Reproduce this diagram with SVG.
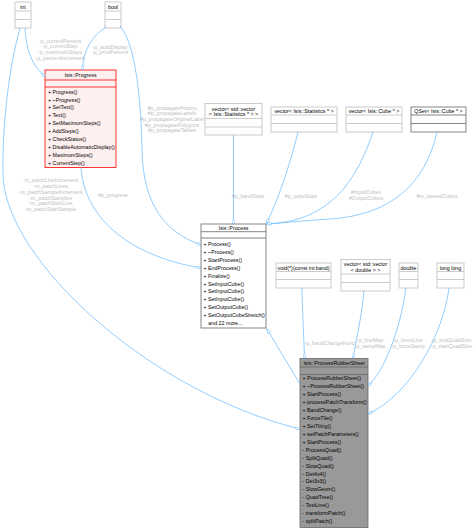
<svg xmlns="http://www.w3.org/2000/svg" width="474" height="529" viewBox="0 0 474 529">
<style>
.bx{stroke-width:0.8}
.u{fill:#fff;stroke:#bfbfbf}
.d{fill:#fff;stroke:#666}
.r{fill:#fff0f0;stroke:#ff0000}
.m{fill:#999;stroke:#666}
.sep{stroke-width:0.8}
.su{stroke:#bfbfbf}.sd{stroke:#666}.sr{stroke:#ff0000}
text{font-family:"Liberation Sans",Arial,Helvetica,sans-serif;font-size:5.3px;fill:#000}
.c{text-anchor:middle}
.lb{fill:#bebebe;text-anchor:middle}
.e{fill:none;stroke:#63b8ff;stroke-width:0.7}
.dm{marker-end:url(#dia)}
.tr{marker-end:url(#tri)}
</style>
<defs>
<marker id="dia" viewBox="0 0 10 6" refX="10" refY="3" markerWidth="5.5" markerHeight="3.3" markerUnits="userSpaceOnUse" orient="auto">
<path d="M0.5,3 L5,0.5 L9.5,3 L5,5.5 Z" fill="#fff" stroke="#63b8ff" stroke-width="1"/>
</marker>
<marker id="tri" viewBox="0 0 10 7" refX="10" refY="3.5" markerWidth="5.5" markerHeight="3.9" markerUnits="userSpaceOnUse" orient="auto">
<path d="M0.5,0.5 L9.5,3.5 L0.5,6.5 Z" fill="#fff" stroke="#63b8ff" stroke-width="1"/>
</marker>
</defs>

<g id="n_int">
<rect class="bx u" x="15" y="2" width="16" height="26"/>
<path class="sep su" d="M15,11H31M15,19.5H31"/>
<text class="c" x="23" y="9">int</text>
</g>
<g id="n_bool">
<rect class="bx u" x="105" y="2" width="16" height="26"/>
<path class="sep su" d="M105,11H121M105,19.5H121"/>
<text class="c" x="113" y="9">bool</text>
</g>
<g id="n_progress">
<rect class="bx r" x="45" y="70" width="71" height="97.5"/>
<path class="sep sr" d="M45,80H116M45,87H116"/>
<text class="c" x="80.5" y="77.3">Isis::Progress</text>
<text x="48" y="93.6">+ Progress()</text>
<text x="48" y="101.5">+ ~Progress()</text>
<text x="48" y="109.4">+ SetText()</text>
<text x="48" y="117.3">+ Text()</text>
<text x="48" y="125.2">+ SetMaximumSteps()</text>
<text x="48" y="133.1">+ AddSteps()</text>
<text x="48" y="141">+ CheckStatus()</text>
<text x="48" y="148.9">+ DisableAutomaticDisplay()</text>
<text x="48" y="156.8">+ MaximumSteps()</text>
<text x="48" y="164.7">+ CurrentStep()</text>
</g>
<g id="n_vvstats">
<rect class="bx u" x="205" y="103.5" width="57" height="31.5"/>
<path class="sep su" d="M205,118.5H262M205,127H262"/>
<text class="c" x="233.5" y="110.8">vector&lt; std::vector</text>
<text class="c" x="233.5" y="116.3">&lt; Isis::Statistics * &gt; &gt;</text>
</g>
<g id="n_vstats">
<rect class="bx u" x="271" y="107" width="66" height="25"/>
<path class="sep su" d="M271,115H337M271,123.5H337"/>
<text class="c" x="304" y="113">vector&lt; Isis::Statistics * &gt;</text>
</g>
<g id="n_vcube">
<rect class="bx u" x="346" y="107" width="56" height="25"/>
<path class="sep su" d="M346,115H402M346,123.5H402"/>
<text class="c" x="374" y="113">vector&lt; Isis::Cube * &gt;</text>
</g>
<g id="n_qset">
<rect class="bx d" x="411" y="107" width="55" height="25"/>
<path class="sep sd" d="M411,115H466M411,123.5H466"/>
<text class="c" x="438.5" y="113">QSet&lt; Isis::Cube * &gt;</text>
</g>
<g id="n_process">
<rect class="bx d" x="201" y="224" width="65" height="104"/>
<path class="sep sd" d="M201,231.7H266M201,238H266"/>
<text class="c" x="233.5" y="230">Isis::Process</text>
<text x="203.5" y="246">+ Process()</text>
<text x="203.5" y="253.9">+ ~Process()</text>
<text x="203.5" y="261.8">+ StartProcess()</text>
<text x="203.5" y="269.7">+ EndProcess()</text>
<text x="203.5" y="277.6">+ Finalize()</text>
<text x="203.5" y="285.5">+ SetInputCube()</text>
<text x="203.5" y="293.4">+ SetInputCube()</text>
<text x="203.5" y="301.3">+ SetInputCube()</text>
<text x="203.5" y="309.2">+ SetOutputCube()</text>
<text x="203.5" y="317.1">+ SetOutputCubeStretch()</text>
<text x="208.3" y="325">and 22 more...</text>
</g>
<g id="n_void">
<rect class="bx u" x="276" y="263" width="55" height="25"/>
<path class="sep su" d="M276,271.5H331M276,279.5H331"/>
<text class="c" x="303.5" y="269.5">void(*)(const int band)</text>
</g>
<g id="n_vvdouble">
<rect class="bx u" x="341" y="259.5" width="49" height="31.5"/>
<path class="sep su" d="M341,274H390M341,282.5H390"/>
<text class="c" x="365.5" y="266.3">vector&lt; std::vector</text>
<text class="c" x="365.5" y="271.8">&lt; double &gt; &gt;</text>
</g>
<g id="n_double">
<rect class="bx u" x="399" y="263" width="19" height="25"/>
<path class="sep su" d="M399,271.5H418M399,279.5H418"/>
<text class="c" x="408.5" y="269.5">double</text>
</g>
<g id="n_longlong">
<rect class="bx u" x="437" y="263" width="27" height="25"/>
<path class="sep su" d="M437,271.5H464M437,279.5H464"/>
<text class="c" x="450.5" y="269.5">long long</text>
</g>
<g id="n_prs">
<rect class="bx m" x="300" y="358.5" width="68" height="169"/>
<path class="sep sd" d="M300,367H368M300,374.5H368"/>
<text class="c" x="334" y="364.8">Isis::ProcessRubberSheet</text>
<text x="302.5" y="380.2">+ ProcessRubberSheet()</text>
<text x="302.5" y="388.1">+ ~ProcessRubberSheet()</text>
<text x="302.5" y="396.1">+ StartProcess()</text>
<text x="302.5" y="404">+ processPatchTransform()</text>
<text x="302.5" y="412">+ BandChange()</text>
<text x="302.5" y="419.9">+ ForceTile()</text>
<text x="302.5" y="427.8">+ SetTiling()</text>
<text x="302.5" y="435.8">+ setPatchParameters()</text>
<text x="302.5" y="443.7">+ StartProcess()</text>
<text x="302.5" y="451.7">- ProcessQuad()</text>
<text x="302.5" y="459.6">- SplitQuad()</text>
<text x="302.5" y="467.5">- SlowQuad()</text>
<text x="302.5" y="475.5">- Det4x4()</text>
<text x="302.5" y="483.4">- Det3x3()</text>
<text x="302.5" y="491.4">- SlowGeom()</text>
<text x="302.5" y="499.3">- QuadTree()</text>
<text x="302.5" y="507.2">- TestLine()</text>
<text x="302.5" y="515.2">- transformPatch()</text>
<text x="302.5" y="523.1">- splitPatch()</text>
</g>

<g id="connectors">
<path class="e dm" d="M25,28 C26,50 32,66 45.5,76.5"/>
<text class="lb" x="60" y="42.6">-p_currentPercent</text>
<text class="lb" x="60" y="48.4">-p_currentStep</text>
<text class="lb" x="60" y="54.2">-p_maximumSteps</text>
<text class="lb" x="60" y="60">-p_percentIncrement</text>

<path class="e dm" d="M106,27 C92,36 83,50 82.5,70"/>
<text class="lb" x="110" y="48.6">-p_autoDisplay</text>
<text class="lb" x="110" y="54.2">-p_printPercent</text>

<path class="e dm" d="M120,26 C136,45 141,100 142,150 C143,205 165,232 201,245"/>
<text class="lb" x="172" y="109.6">#p_propagateHistory</text>
<text class="lb" x="172" y="115.3">#p_propagateLabels</text>
<text class="lb" x="172" y="121">#p_propagateOriginalLabel</text>
<text class="lb" x="172" y="126.7">#p_propagatePolygons</text>
<text class="lb" x="172" y="132.4">#p_propagateTables</text>

<path class="e dm" d="M81,167.5 C84,215 125,255 201,268"/>
<text class="lb" x="113" y="197">#p_progress</text>

<path class="e dm" d="M20,28 C8,70 2,130 3,175 C5,260 150,392 300,429"/>
<text class="lb" x="50.5" y="182.2">-m_patchLineIncrement</text>
<text class="lb" x="50.5" y="188">-m_patchLines</text>
<text class="lb" x="50.5" y="193.8">-m_patchSampleIncrement</text>
<text class="lb" x="50.5" y="199.6">-m_patchSamples</text>
<text class="lb" x="50.5" y="205.4">-m_patchStartLine</text>
<text class="lb" x="50.5" y="211.2">-m_patchStartSample</text>

<path class="e dm" d="M233.5,135 L233.5,224"/>
<text class="lb" x="248" y="197.6">#p_bandStats</text>

<path class="e dm" d="M298,132 C290,165 278,200 266.5,223.5"/>
<text class="lb" x="301" y="197.6">#p_cubeStats</text>

<path class="e dm" d="M373,132 C357,180 330,222 266.5,224"/>
<text class="lb" x="366" y="194.2">#InputCubes</text>
<text class="lb" x="366" y="199.6">#OutputCubes</text>

<path class="e dm" d="M437,132 C425,185 390,215 330,219 C300,221 280,223 266.5,224"/>
<text class="lb" x="437" y="197.6">#m_ownedCubes</text>

<path class="e tr" d="M300,384 L266.5,328.5"/>

<path class="e dm" d="M302,288 C302,310 304,335 304.5,358.5"/>
<text class="lb" x="330" y="345.2">-p_bandChangeFunct</text>

<path class="e dm" d="M364,291 C362,315 356,340 353,358.5"/>
<text class="lb" x="370" y="342">-p_lineMap</text>
<text class="lb" x="370" y="347.6">-p_sampMap</text>

<path class="e dm" d="M406,288 C400,330 385,370 368,386"/>
<text class="lb" x="408" y="342">-p_forceLine</text>
<text class="lb" x="408" y="347.6">-p_forceSamp</text>

<path class="e dm" d="M449,288 C443,335 410,395 368,414"/>
<text class="lb" x="451.5" y="342">-p_endQuadSize</text>
<text class="lb" x="451.5" y="347.6">-p_startQuadSize</text>
</g>
</svg>
